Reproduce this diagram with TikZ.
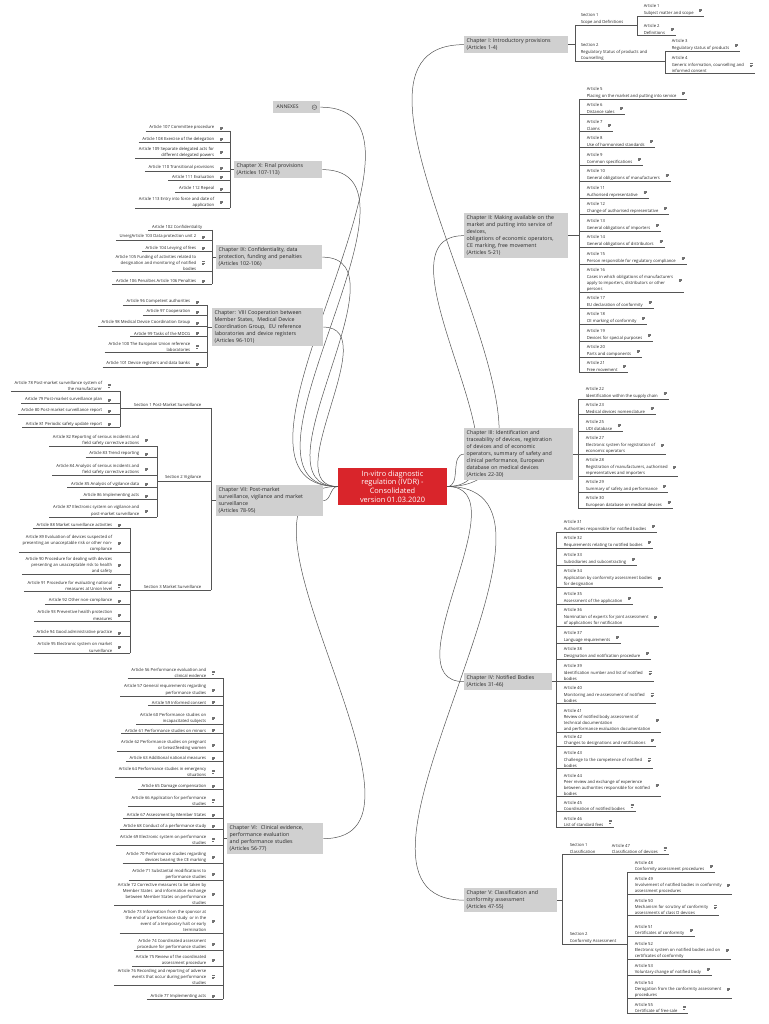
\documentclass[tikz,border=0pt]{standalone}
\usepackage{fontspec}
\setmainfont{Open Sans}
\usetikzlibrary{backgrounds}
\definecolor{chg}{HTML}{D0D0D0}
\definecolor{cred}{HTML}{D9252B}
\definecolor{lnc}{HTML}{555555}
\tikzset{
 leaf/.style={font=\fontsize{4.2}{6.3}\selectfont, inner sep=0.6pt, align=left, text=black!85},
 lleaf/.style={leaf, align=right},
 ln/.style={draw=lnc, line width=0.5pt, rounded corners=1.5pt},
 chap/.style={fill=chg, font=\fontsize{5.3}{7}\selectfont, align=left, inner sep=2.5pt, anchor=north west, text=black!85},
 conn/.style={draw=lnc, line width=0.5pt},
 noteic/.pic={\draw[line width=.35pt,black!55] (0,-1.1)--(3,-1.1) (0,0)--(3,0) (0,1.1)--(2,1.1);}
}
\newcommand\RL[5]{\node[leaf,anchor=north west] (#1) at (#2,#3) {#4};
 \pic at ([xshift=5]#1.east) {noteic};
 \draw[ln] (#1.south west -| #5) -- ([xshift=10]#1.south east);}
\newcommand\RS[5]{\node[leaf,anchor=north west] (#1) at (#2,#3) {#4};
 \draw[ln] (#1.south west -| #5) -- ([xshift=4]#1.south east);}
\newcommand\LL[5]{\node[lleaf,anchor=north east] (#1) at (#2,#3) {#4};
 \pic at ([xshift=5]#1.east) {noteic};
 \draw[ln] ([xshift=-3]#1.south west) -- (#1.south east -| #5);}
\newcommand\LS[5]{\node[lleaf,anchor=north east] (#1) at (#2,#3) {#4};
 \draw[ln] ([xshift=-3]#1.south west) -- (#1.south east -| #5);}
\newcommand\BR[3]{\draw[ln] (#2.south -| #1) -- (#3.south -| #1);}
\begin{document}
\begin{tikzpicture}[x=1pt,y=-1pt]
\useasboundingbox (0,0) rectangle (768,1024);
\node[fill=cred, text=white, minimum width=109, minimum height=37, inner sep=1pt, align=center, font=\fontsize{7.4}{8.8}\selectfont] (c) at (392.5,486.5) {In-vitro diagnostic\\regulation (IVDR) -\\Consolidated\\version 01.03.2020};
% ---------- Chapter I
\node[chap, text width=99] (ch1) at (464,36) {Chapter I: Introductory provisions\\(Articles 1-4)};
\coordinate (b1) at (575,0); \coordinate (b1a) at (637,0); \coordinate (b1b) at (665,0);
\RS{s11}{580}{13}{Section 1\\Scope and Definitions}{b1}
\RS{s12}{580}{43}{Section 2\\Regulatory Status of products and\\Counselling}{b1}
\RL{a1}{643}{4}{Article 1\\Subject matter and scope}{b1a}
\RL{a2}{643}{24}{Article 2\\Definitions}{b1a}
\RL{a3}{671}{39}{Article 3\\Regulatory status of products}{b1b}
\RL{a4}{671}{56}{Article 4\\Generic information, counselling and\\informed consent}{b1b}
\BR{b1}{s11}{s12} \BR{b1a}{a1}{a2} \BR{b1b}{a3}{a4}
\draw[ln] (s11.south east) -- (s11.south east -| b1a);
\draw[ln] (s12.south east) -- (s12.south east -| b1b);
\draw[conn] (ch1.east) -- (ch1.east -| b1);
% ---------- Chapter II
\node[chap, text width=99] (ch2) at (464,213) {Chapter II: Making available on the\\market and putting into service of\\devices,\\obligations of economic operators,\\CE marking, free movement\\(Articles 5-21)};
\coordinate (b2) at (579,0);
\RL{a5}{586}{87}{Article 5\\Placing on the market and putting into service}{b2}
\RL{a6}{586}{103}{Article 6\\Distance sales}{b2}
\RL{a7}{586}{120}{Article 7\\Claims}{b2}
\RL{a8}{586}{136}{Article 8\\Use of harmonised standards}{b2}
\RL{a9}{586}{153}{Article 9\\Common specifications}{b2}
\RL{a10}{586}{169}{Article 10\\General obligations of manufacturers}{b2}
\RL{a11}{586}{186}{Article 11\\Authorised representative}{b2}
\RL{a12}{586}{202}{Article 12\\Change of authorised representative}{b2}
\RL{a13}{586}{219}{Article 13\\General obligations of importers}{b2}
\RL{a14}{586}{235}{Article 14\\General obligations of distributors}{b2}
\RL{a15}{586}{252}{Article 15\\Person responsible for regulatory compliance}{b2}
\RL{a16}{586}{268}{Article 16\\Cases in which obligations of manufacturers\\apply to importers, distributors or other\\persons}{b2}
\RL{a17}{586}{296}{Article 17\\EU declaration of conformity}{b2}
\RL{a18}{586}{312}{Article 18\\CE marking of conformity}{b2}
\RL{a19}{586}{329}{Article 19\\Devices for special purposes}{b2}
\RL{a20}{586}{345}{Article 20\\Parts and components}{b2}
\RL{a21}{586}{361}{Article 21\\Free movement}{b2}
\BR{b2}{a5}{a21}
\draw[conn] (ch2.east) -- (ch2.east -| b2);
% ---------- Chapter III
\node[chap, text width=104] (ch3) at (464,428) {Chapter III: Identification and\\traceability of devices, registration\\of devices and of economic\\operators, summary of safety and\\clinical performance, European\\database on medical devices\\(Articles 22-30)};
\coordinate (b3) at (578,0);
\RL{a22}{585}{387}{Article 22\\Identification within the supply chain}{b3}
\RL{a23}{585}{403}{Article 23\\Medical devices nomenclature}{b3}
\RL{a25}{585}{420}{Article 25\\UDI database}{b3}
\RL{a27}{585}{436}{Article 27\\Electronic system for registration of\\economic operators}{b3}
\RL{a28}{585}{458}{Article 28\\Registration of manufacturers, authorised\\representatives and importers}{b3}
\RL{a29}{585}{480}{Article 29\\Summary of safety and performance}{b3}
\RL{a30}{585}{496}{Article 30\\European database on medical devices}{b3}
\BR{b3}{a22}{a30}
\draw[conn] (ch3.east) -- (ch3.east -| b3);
% ---------- Chapter IV
\node[chap, text width=83] (ch4) at (464,673) {Chapter IV: Notified Bodies\\(Articles 31-46)};
\coordinate (b4) at (556,0);
\RL{a31}{563}{520}{Article 31\\Authorities responsible for notified bodies}{b4}
\RL{a32}{563}{536}{Article 32\\Requirements relating to notified bodies}{b4}
\RL{a33}{563}{553}{Article 33\\Subsidiaries and subcontracting}{b4}
\RL{a34}{563}{569}{Article 34\\Application by conformity assessment bodies\\for designation}{b4}
\RL{a35}{563}{592}{Article 35\\Assessment of the application}{b4}
\RL{a36}{563}{608}{Article 36\\Nomination of experts for joint assessment\\of applications for notification}{b4}
\RL{a37}{563}{631}{Article 37\\Language requirements}{b4}
\RL{a38}{563}{647}{Article 38\\Designation and notification procedure}{b4}
\RL{a39}{563}{664}{Article 39\\Identification number and list of notified\\bodies}{b4}
\RL{a40}{563}{686}{Article 40\\Monitoring and re-assessment of notified\\bodies}{b4}
\RL{a41}{563}{708}{Article 41\\Review of notified body assessment of\\technical documentation\\and performance evaluation documentation}{b4}
\RL{a42}{563}{734}{Article 42\\Changes to designations and notifications}{b4}
\RL{a43}{563}{751}{Article 43\\Challenge to the competence of notified\\bodies}{b4}
\RL{a44}{563}{773}{Article 44\\Peer review and exchange of experience\\between authorities responsible for notified\\bodies}{b4}
\RL{a45}{563}{800}{Article 45\\Coordination of notified bodies}{b4}
\RL{a46}{563}{816}{Article 46\\List of standard fees}{b4}
\BR{b4}{a31}{a46}
\draw[conn] (ch4.east) -- (ch4.east -| b4);
% ---------- Chapter V
\node[chap, text width=88] (ch5) at (464,888) {Chapter V: Classification and\\conformity assessment\\(Articles 47-55)};
\coordinate (b5) at (562,0); \coordinate (b5b) at (627,0);
\RS{s51}{569}{843}{Section 1\\Classification}{b5}
\RL{a47}{611}{843}{Article 47\\Classification of devices}{s51.south east}
\RS{s52}{569}{932}{Section 2\\Conformity Assessment}{b5}
\RL{a48}{634}{860}{Article 48\\Conformity assessment procedures}{b5b}
\RL{a49}{634}{876}{Article 49\\Involvement of notified bodies in conformity\\assessment procedures}{b5b}
\RL{a50}{634}{898}{Article 50\\Mechanism for scrutiny of conformity\\assessments of class D devices}{b5b}
\RL{a51}{634}{924}{Article 51\\Certificates of conformity}{b5b}
\RL{a52}{634}{941}{Article 52\\Electronic system on notified bodies and on\\certificates of conformity}{b5b}
\RL{a53}{634}{963}{Article 53\\Voluntary change of notified body}{b5b}
\RL{a54}{634}{980}{Article 54\\Derogation from the conformity assessment\\procedures}{b5b}
\RL{a55}{634}{1002}{Article 55\\Certificate of free sale}{b5b}
\BR{b5}{s51}{s52} \BR{b5b}{a48}{a55}
\draw[ln] (s52.south east) -- (s52.south east -| b5b);
\draw[conn] (ch5.east) -- (ch5.east -| b5);
% ---------- ANNEXES
\node[fill=chg, font=\fontsize{5}{6}\selectfont, inner sep=2.5pt, anchor=north west, text=black!85, minimum width=47, minimum height=12, align=left, text width=40] (ann) at (273,101) {ANNEXES};
\draw[lnc, line width=0.4pt] ([xshift=-6]ann.east) circle (2.3) ++(-1.2,0) -- ++(2.4,0);
% ---------- Chapter X
\node[chap, text width=83] (ch10) at (234,161) {Chapter X: Final provisions\\(Articles 107-113)};
\coordinate (b10) at (230,0);
\LL{a107}{215}{125}{Article 107 Committee procedure}{b10}
\LL{a108}{215}{136}{Article 108 Exercise of the delegation}{b10}
\LL{a109}{215}{146}{Article 109 Separate delegated acts for\\different delegated powers}{b10}
\LL{a110}{215}{165}{Article 110 Transitional provisions}{b10}
\LL{a111}{215}{175}{Article 111 Evaluation}{b10}
\LL{a112}{215}{186}{Article 112 Repeal}{b10}
\LL{a113}{215}{196}{Article 113 Entry into force and date of\\application}{b10}
\BR{b10}{a107}{a113}
\draw[conn] (ch10.west) -- (ch10.west -| b10);
% ---------- Chapter IX
\node[chap, text width=101] (ch9) at (216,245) {Chapter IX: Confidentiality, data\\protection, funding and penalties\\(Articles 102-106)};
\coordinate (b9) at (212,0);
\LS{a102}{203}{224}{Article 102 Confidentiality}{b9}
\LL{a103}{197}{234}{UnergArticle 103 Data protection unit 2}{b9}
\LL{a104}{197}{245}{Article 104 Levying of fees}{b9}
\LL{a105}{197}{254}{Article 105 Funding of activities related to\\designation and monitoring of notified\\bodies}{b9}
\LL{a106}{197}{279}{Article 106 Penalties Article 106 Penalties}{b9}
\BR{b9}{a102}{a106}
\draw[conn] (ch9.west) -- (ch9.west -| b9);
% ---------- Chapter VIII
\node[chap, text width=106] (ch8) at (212,308) {Chapter: VIII Cooperation between\\Member States,\ \ Medical Device\\Coordination Group,\ \ EU reference\\laboratories and device registers\\(Articles 96-101)};
\coordinate (b8) at (207,0);
\LL{a96}{191}{299}{Article 96 Competent authorities}{b8}
\LL{a97}{191}{309}{Article 97 Cooperation}{b8}
\LL{a98}{191}{320}{Article 98 Medical Device Coordination Group}{b8}
\LL{a99}{191}{331}{Article 99 Tasks of the MDCG}{b8}
\LL{a100}{191}{341}{Article 100 The European Union reference\\laboratories}{b8}
\LL{a101}{191}{361}{Article 101 Device registers and data banks}{b8}
\BR{b8}{a96}{a101}
\draw[conn] (ch8.west) -- (ch8.west -| b8);
% ---------- Chapter VII
\node[chap, text width=102] (ch7) at (216,485) {Chapter VII: Post-market\\surveillance, vigilance and market\\surveillance\\(Articles 78-95)};
\coordinate (b7) at (211,0); \coordinate (b7a) at (120,0); \coordinate (b7b) at (157,0); \coordinate (b7c) at (130,0);
\LS{s71}{202}{403}{Section 1 Post-Market Surveillance}{b7}
\LS{s72}{202}{475}{Section 2 Vigilance}{b7}
\LS{s73}{202}{585}{Section 3 Market Surveillance}{b7}
\draw[ln] (s71.south west) -- (s71.south west -| b7a);
\draw[ln] (s72.south west) -- (s72.south west -| b7b);
\draw[ln] (s73.south west) -- (s73.south west -| b7c);
\BR{b7}{s71}{s73}
\draw[conn] (ch7.west) -- (ch7.west -| b7);
\LL{a78}{103}{380}{Article 78 Post-market surveillance system of\\the manufacturer}{b7a}
\LL{a79}{103}{397}{Article 79 Post-market surveillance plan}{b7a}
\LL{a80}{103}{408}{Article 80 Post-market surveillance report}{b7a}
\LL{a81}{103}{421}{Article 81 Periodic safety update report}{b7a}
\BR{b7a}{a78}{a81}
\LL{a82}{140}{434}{Article 82 Reporting of serious incidents and\\field safety corrective actions}{b7b}
\LL{a83}{140}{451}{Article 83 Trend reporting}{b7b}
\LL{a84}{140}{463}{Article 84 Analysis of serious incidents and\\field safety corrective actions}{b7b}
\LL{a85}{140}{481}{Article 85 Analysis of vigilance data}{b7b}
\LL{a86}{140}{493}{Article 86 Implementing acts}{b7b}
\LL{a87}{140}{505}{Article 87 Electronic system on vigilance and\\post-market surveillance}{b7b}
\BR{b7b}{a82}{a87}
\LL{a88}{113}{523}{Article 88 Market surveillance activities}{b7c}
\LL{a89}{113}{534}{Article 89 Evaluation of devices suspected of\\presenting an unacceptable risk or other non-\\compliance}{b7c}
\LL{a90}{113}{556}{Article 90 Procedure for dealing with devices\\presenting an unacceptable risk to health\\and safety}{b7c}
\LL{a91}{113}{580}{Article 91 Procedure for evaluating national\\measures at Union level}{b7c}
\LL{a92}{113}{598}{Article 92 Other non-compliance}{b7c}
\LL{a93}{113}{610}{Article 93 Preventive health protection\\measures}{b7c}
\LL{a94}{113}{630}{Article 94 Good administrative practice}{b7c}
\LL{a95}{113}{642}{Article 95 Electronic system on market\\surveillance}{b7c}
\BR{b7c}{a88}{a95}
% ---------- Chapter VI
\node[chap, text width=91] (ch6) at (227,823) {Chapter VI:\ \ Clinical evidence,\\performance evaluation\\and performance studies\\(Articles 56-77)};
\coordinate (b6) at (223,0);
\LL{a56}{207}{667}{Article 56 Performance evaluation and\\clinical evidence}{b6}
\LL{a57}{207}{684}{Article 57 General requirements regarding\\performance studies}{b6}
\LL{a59}{207}{700}{Article 59 Informed consent}{b6}
\LL{a60}{207}{712}{Article 60 Performance studies on\\incapacitated subjects}{b6}
\LL{a61}{207}{728}{Article 61 Performance studies on minors}{b6}
\LL{a62}{207}{739}{Article 62 Performance studies on pregnant\\or breastfeeding women}{b6}
\LL{a63}{207}{756}{Article 63 Additional national measures}{b6}
\LL{a64}{207}{766}{Article 64 Performance studies in emergency\\situations}{b6}
\LL{a65}{207}{783}{Article 65 Damage compensation}{b6}
\LL{a66}{207}{795}{Article 66 Application for performance\\studies}{b6}
\LL{a67}{207}{812}{Article 67 Assessment by Member States}{b6}
\LL{a68}{207}{823}{Article 68 Conduct of a performance study}{b6}
\LL{a69}{207}{834}{Article 69 Electronic system on performance\\studies}{b6}
\LL{a70}{207}{851}{Article 70 Performance studies regarding\\devices bearing the CE marking}{b6}
\LL{a71}{207}{868}{Article 71 Substantial modifications to\\performance studies}{b6}
\LL{a72}{207}{882}{Article 72 Corrective measures to be taken by\\Member States\ \ and information exchange\\between Member States on performance\\studies}{b6}
\LL{a73}{207}{909}{Article 73 Information from the sponsor at\\the end of a performance study\ \ or in the\\event of a temporary halt or early\\termination}{b6}
\LL{a74}{207}{938}{Article 74 Coordinated assessment\\procedure for performance studies}{b6}
\LL{a75}{207}{954}{Article 75 Review of the coordinated\\assessment procedure}{b6}
\LL{a76}{207}{968}{Article 76 Recording and reporting of adverse\\events that occur during performance\\studies}{b6}
\LL{a77}{207}{993}{Article 77 Implementing acts}{b6}
\BR{b6}{a56}{a77}
\draw[conn] (ch6.west) -- (ch6.west -| b6);
% ---------- center connectors (behind boxes)
\begin{scope}[on background layer]
\foreach \n in {ch1,ch2,ch3,ch4,ch5}
  \draw[conn] (c.east) to[out=0,in=180] (\n.west);
\foreach \n in {ann,ch10,ch9,ch8,ch7,ch6}
  \draw[conn] (c.west) to[out=180,in=0] (\n.east);
\end{scope}
\end{tikzpicture}
\end{document}
